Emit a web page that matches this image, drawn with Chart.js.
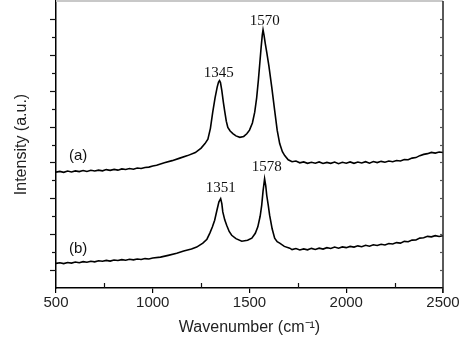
<!DOCTYPE html>
<html>
<head>
<meta charset="utf-8">
<script src="https://cdn.jsdelivr.net/npm/chart.js@4/dist/chart.umd.min.js"></script>
<style>
  html, body { margin: 0; padding: 0; background: #fff; }
  #wrap { width: 474px; height: 347px; }
</style>
</head>
<body>
<div id="wrap"><canvas id="raman" width="474" height="347"></canvas></div>
<script>
// spectrum (a)
const wnA = [500, 520, 540, 560, 580, 600, 620, 640, 660, 680, 700, 720, 740, 760, 780, 800, 820, 840, 860, 880,
  900, 920, 940, 960, 980, 1000, 1020, 1060, 1100, 1140, 1180, 1220, 1250,
  1270, 1285, 1298, 1310, 1322, 1333, 1340, 1345, 1350, 1357, 1365, 1372, 1380, 1388, 1400, 1414, 1430, 1450, 1470, 1486,
  1500, 1515, 1527, 1537, 1546, 1553, 1560, 1566, 1570, 1575, 1582, 1589, 1600, 1615, 1630, 1643, 1656, 1670, 1682, 1700,
  1720, 1740, 1760, 1780, 1800, 1820, 1840, 1860, 1880, 1900, 1920, 1940, 1960, 1980, 2000, 2020, 2040, 2060, 2080, 2100,
  2120, 2140, 2160, 2180, 2200, 2220, 2240, 2260, 2280, 2300, 2320, 2340, 2360, 2380, 2400, 2420, 2440, 2460, 2480, 2500];
const intA = [6.46, 6.50, 6.45, 6.52, 6.47, 6.53, 6.49, 6.55, 6.50, 6.56, 6.52, 6.57, 6.53, 6.60, 6.56, 6.61, 6.57, 6.64, 6.61, 6.66,
  6.62, 6.69, 6.66, 6.72, 6.74, 6.80, 6.84, 6.98, 7.10, 7.24, 7.38, 7.55, 7.80,
  8.05, 8.30, 8.90, 9.80, 10.60, 11.20, 11.48, 11.56, 11.45, 11.00, 10.35, 9.85, 9.30, 8.95, 8.75, 8.61, 8.48, 8.40, 8.45, 8.60,
  8.80, 9.20, 9.80, 10.60, 11.60, 12.50, 13.40, 14.10, 14.39, 14.10, 13.60, 13.15, 12.40, 11.20, 9.90, 8.80, 8.05, 7.60, 7.38, 7.15,
  7.04, 7.08, 6.98, 7.03, 6.95, 7.01, 6.96, 7.03, 6.94, 7.00, 6.95, 7.02, 6.93, 7.01, 6.96, 7.03, 6.95, 7.02, 6.97, 7.04,
  6.96, 7.05, 6.99, 7.06, 7.01, 7.08, 7.04, 7.11, 7.08, 7.16, 7.15, 7.24, 7.27, 7.38, 7.45, 7.49, 7.56, 7.52, 7.58, 7.55];

// spectrum (b)
const wnB = [500, 520, 540, 560, 580, 600, 620, 640, 660, 680, 700, 720, 740, 760, 780, 800, 820, 840, 860, 880,
  900, 920, 940, 960, 980, 1000, 1040, 1080, 1124, 1160, 1200, 1227, 1259,
  1280, 1295, 1308, 1320, 1332, 1342, 1351, 1357, 1362, 1372, 1382, 1395, 1408, 1430, 1460, 1490, 1512, 1530, 1543, 1555,
  1563, 1570, 1578, 1584, 1589, 1597, 1604, 1617, 1630, 1643, 1656, 1680, 1708,
  1720, 1740, 1760, 1780, 1800, 1820, 1840, 1860, 1880, 1900, 1920, 1940, 1960, 1980, 2000, 2020, 2040, 2060, 2080, 2100,
  2120, 2140, 2160, 2180, 2200, 2220, 2240, 2260, 2280, 2300, 2320, 2340, 2360, 2380, 2400, 2420, 2440, 2460, 2480, 2500];
const intB = [1.37, 1.41, 1.36, 1.42, 1.39, 1.45, 1.41, 1.47, 1.44, 1.49, 1.46, 1.52, 1.49, 1.54, 1.50, 1.56, 1.53, 1.58, 1.55, 1.60,
  1.57, 1.62, 1.59, 1.64, 1.62, 1.67, 1.72, 1.82, 1.94, 2.06, 2.18, 2.28, 2.50,
  2.72, 3.06, 3.40, 3.78, 4.35, 4.80, 4.98, 4.70, 4.24, 3.80, 3.50, 3.15, 2.94, 2.75, 2.61, 2.66, 2.78, 3.05, 3.41, 4.00,
  4.61, 5.40, 6.09, 5.70, 5.17, 4.60, 4.06, 3.30, 2.78, 2.58, 2.50, 2.32, 2.22,
  2.14, 2.20, 2.12, 2.18, 2.13, 2.21, 2.15, 2.22, 2.17, 2.25, 2.20, 2.28, 2.22, 2.29, 2.25, 2.32, 2.28, 2.35, 2.30, 2.38,
  2.33, 2.41, 2.37, 2.44, 2.40, 2.48, 2.45, 2.53, 2.50, 2.60, 2.58, 2.67, 2.68, 2.78, 2.80, 2.88, 2.85, 2.92, 2.87, 2.91];

// peak annotations (text centre, data units)
const peakText = ['1345', '1570', '1351', '1578'];
const peakTextX = [1341, 1579, 1352, 1589];
const peakTextY = [12.0, 14.86, 5.56, 6.72];

const curveText = ['(a)', '(b)'];
const curveTextX = [614, 614];
const curveTextY = [7.39, 2.17];

const xTickLabels = [500, 1000, 1500, 2000, 2500];

const toPts = (xs, ys) => xs.map((x, i) => ({ x: x, y: ys[i] }));

const axisDecor = {
  id: 'axisDecor',
  afterDraw(chart) {
    const ctx = chart.ctx;
    const a = chart.chartArea;
    const xs = chart.scales.x, ys = chart.scales.y;
    ctx.save();
    // top frame (light grey) and right frame
    ctx.strokeStyle = '#c8c8c8';
    ctx.lineWidth = 2;
    ctx.beginPath(); ctx.moveTo(a.left, a.top); ctx.lineTo(a.right, a.top); ctx.stroke();
    ctx.strokeStyle = '#222';
    ctx.lineWidth = 1.5;
    ctx.beginPath(); ctx.moveTo(a.right, a.top); ctx.lineTo(a.right, a.bottom + 5); ctx.stroke();

    // minor x ticks pointing inward
    ctx.strokeStyle = '#111';
    ctx.lineWidth = 1.2;
    for (let v = 750; v < 2500; v += 500) {
      const px = Math.round(xs.getPixelForValue(v)) + 0.5;
      ctx.beginPath(); ctx.moveTo(px, a.bottom); ctx.lineTo(px, a.bottom - 5); ctx.stroke();
    }
    // y ticks outward on the left, small inward ones on the right
    for (let v = 1; v < 16; v++) {
      const py = Math.round(ys.getPixelForValue(v)) + 0.5;
      const len = v % 2 ? 6 : 4;
      ctx.strokeStyle = '#111';
      ctx.beginPath(); ctx.moveTo(a.left, py); ctx.lineTo(a.left - len, py); ctx.stroke();
      ctx.strokeStyle = '#555';
      ctx.beginPath(); ctx.moveTo(a.right, py); ctx.lineTo(a.right - 3, py); ctx.stroke();
    }

    // annotations
    ctx.fillStyle = '#111';
    ctx.textAlign = 'center';
    ctx.textBaseline = 'middle';
    ctx.font = '15px "Liberation Serif", "Times New Roman", serif';
    peakText.forEach((t, i) => {
      ctx.fillText(t, xs.getPixelForValue(peakTextX[i]), ys.getPixelForValue(peakTextY[i]));
    });
    ctx.font = '15px "Liberation Sans", Arial, sans-serif';
    curveText.forEach((t, i) => {
      ctx.fillText(t, xs.getPixelForValue(curveTextX[i]), ys.getPixelForValue(curveTextY[i]));
    });
    ctx.restore();
  }
};

new Chart(document.getElementById('raman').getContext('2d'), {
  type: 'line',
  data: {
    datasets: [
      { label: '(a)', data: toPts(wnA, intA), borderColor: '#000', borderWidth: 1.6, pointRadius: 0, tension: 0, fill: false },
      { label: '(b)', data: toPts(wnB, intB), borderColor: '#000', borderWidth: 1.6, pointRadius: 0, tension: 0, fill: false }
    ]
  },
  options: {
    responsive: false,
    animation: false,
    layout: { padding: { top: 1, right: 31, left: 0, bottom: 0 } },
    plugins: { legend: { display: false }, tooltip: { enabled: false } },
    scales: {
      x: {
        type: 'linear',
        min: 500,
        max: 2500,
        afterFit: (s) => { s.height = 59; },
        afterBuildTicks: (s) => { s.ticks = xTickLabels.map(v => ({ value: v })); },
        border: { display: true, color: '#000', width: 1.5 },
        grid: { drawOnChartArea: false, drawTicks: true, tickLength: 5, color: '#000', lineWidth: 1.2 },
        ticks: {
          padding: 1,
          color: '#222',
          maxRotation: 0,
          callback: (v) => String(v),
          font: { family: '"Liberation Sans", Arial, sans-serif', size: 15 }
        },
        title: {
          display: true,
          text: 'Wavenumber (cm\u207B\u00B9)',
          color: '#222',
          font: { family: '"Liberation Sans", Arial, sans-serif', size: 16 },
          padding: { top: 0, bottom: 10 }
        }
      },
      y: {
        min: 0,
        max: 16,
        afterFit: (s) => { s.width = 56; },
        border: { display: true, color: '#000', width: 1.5 },
        grid: { display: false },
        ticks: { display: false, stepSize: 1 },
        title: {
          display: true,
          text: 'Intensity (a.u.)',
          color: '#222',
          font: { family: '"Liberation Sans", Arial, sans-serif', size: 16 },
          padding: { top: 12, bottom: 0 }
        }
      }
    }
  },
  plugins: [axisDecor]
});
</script>
</body>
</html>
